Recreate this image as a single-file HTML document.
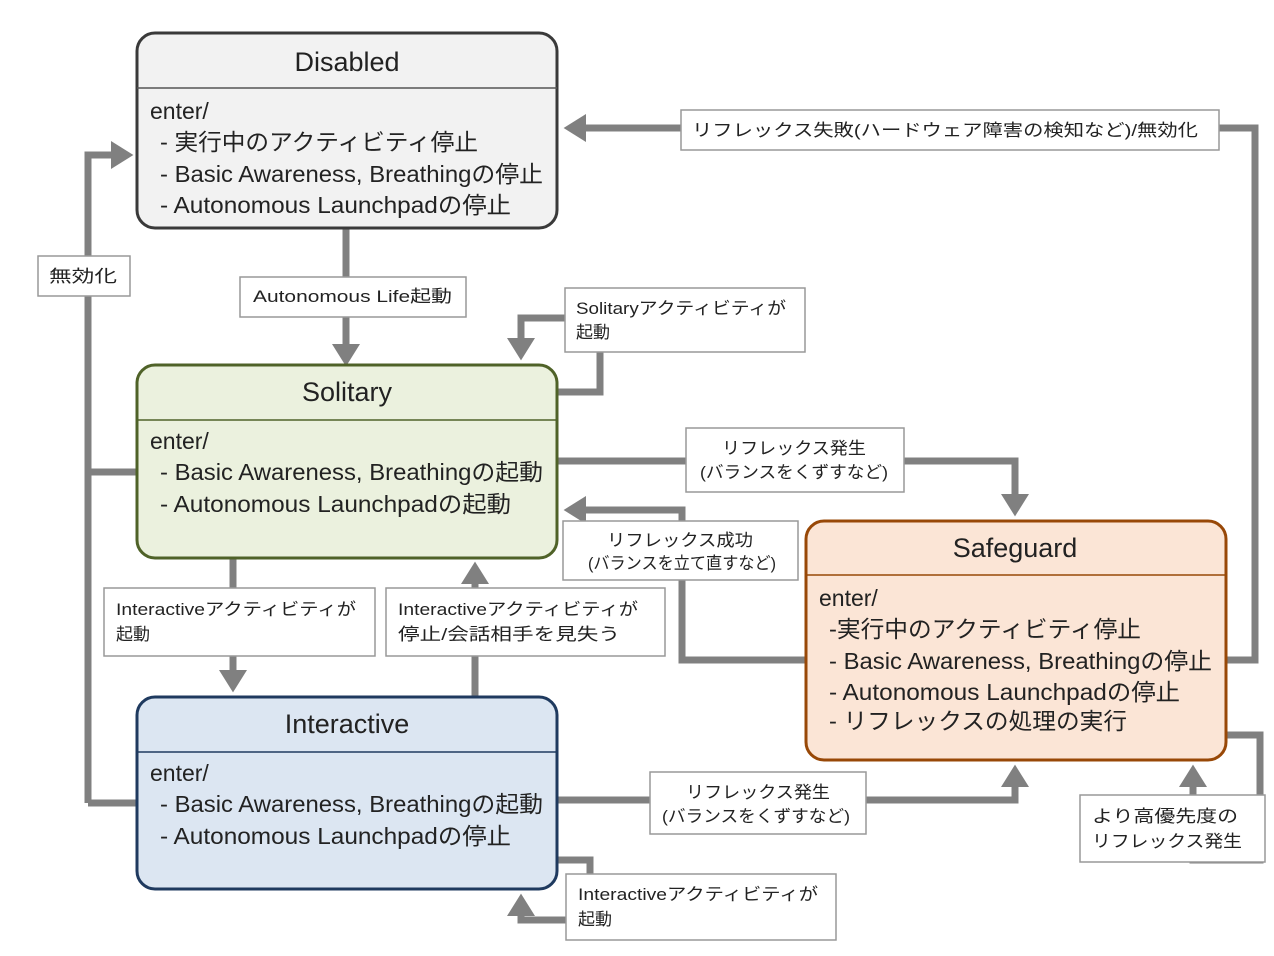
<!DOCTYPE html>
<html><head><meta charset="utf-8"><style>
html,body{margin:0;padding:0;background:#fff;}
svg{display:block;}
text{font-family:"Liberation Sans","Noto Sans CJK JP",sans-serif;fill:#222;}
.h{font-size:27px;text-anchor:middle;}
.b{font-size:23px;}
.l{font-size:17px;}
.c{fill:none;stroke:#808080;stroke-width:7;}
.lb{fill:#fff;stroke:#999;stroke-width:1.5;}
</style></head><body>
<svg width="1274" height="956" viewBox="0 0 1274 956">
<defs><marker id="a" markerWidth="4" markerHeight="4" refX="2" refY="2" orient="auto" markerUnits="strokeWidth"><path d="M0,0 L3.2,2 L0,4 z" fill="#808080"/></marker></defs>
<path class="c" d="M346,228 V358" marker-end="url(#a)"/>
<path class="c" d="M137,472 H88 M137,803 H88 M88,803 V155 H125" marker-end="url(#a)"/>
<path class="c" d="M1226,660 H1255 V128 H572" marker-end="url(#a)"/>
<path class="c" d="M557,392 H600 V318 H521 V352" marker-end="url(#a)"/>
<path class="c" d="M557,461 H1015 V508" marker-end="url(#a)"/>
<path class="c" d="M806,660 H682 V510 H572" marker-end="url(#a)"/>
<path class="c" d="M233,558 V684" marker-end="url(#a)"/>
<path class="c" d="M475,697 V570" marker-end="url(#a)"/>
<path class="c" d="M557,800 H1015 V773" marker-end="url(#a)"/>
<path class="c" d="M1226,735 H1260 V860 H1193 V773" marker-end="url(#a)"/>
<path class="c" d="M557,860 H590 V920 H521 V902" marker-end="url(#a)"/>

<rect x="137" y="33" width="420" height="195" rx="18" fill="#f2f2f2" stroke="#3a3a3a" stroke-width="3"/>
<line x1="137" y1="88" x2="557" y2="88" stroke="#555" stroke-width="1.5"/>
<text class="h" x="347" y="71">Disabled</text>
<text class="b" x="150" y="119">enter/</text>
<text class="b" x="160" y="150" textLength="318" lengthAdjust="spacingAndGlyphs">- 実行中のアクティビティ停止</text>
<text class="b" x="160" y="182" textLength="383" lengthAdjust="spacingAndGlyphs">- Basic Awareness, Breathingの停止</text>
<text class="b" x="160" y="213" textLength="351" lengthAdjust="spacingAndGlyphs">- Autonomous Launchpadの停止</text>

<rect x="137" y="365" width="420" height="193" rx="18" fill="#ebf1de" stroke="#4f6228" stroke-width="3"/>
<line x1="137" y1="420" x2="557" y2="420" stroke="#4f6228" stroke-width="1.5"/>
<text class="h" x="347" y="401">Solitary</text>
<text class="b" x="150" y="449">enter/</text>
<text class="b" x="160" y="480" textLength="383" lengthAdjust="spacingAndGlyphs">- Basic Awareness, Breathingの起動</text>
<text class="b" x="160" y="512" textLength="351" lengthAdjust="spacingAndGlyphs">- Autonomous Launchpadの起動</text>

<rect x="137" y="697" width="420" height="192" rx="18" fill="#dce6f2" stroke="#1f3a5f" stroke-width="3"/>
<line x1="137" y1="752" x2="557" y2="752" stroke="#1f3a5f" stroke-width="1.5"/>
<text class="h" x="347" y="733">Interactive</text>
<text class="b" x="150" y="781">enter/</text>
<text class="b" x="160" y="812" textLength="383" lengthAdjust="spacingAndGlyphs">- Basic Awareness, Breathingの起動</text>
<text class="b" x="160" y="844" textLength="351" lengthAdjust="spacingAndGlyphs">- Autonomous Launchpadの停止</text>

<rect x="806" y="521" width="420" height="239" rx="18" fill="#fbe5d6" stroke="#984807" stroke-width="3"/>
<line x1="806" y1="575" x2="1226" y2="575" stroke="#984807" stroke-width="1.5"/>
<text class="h" x="1015" y="557">Safeguard</text>
<text class="b" x="819" y="606">enter/</text>
<text class="b" x="829" y="637" textLength="312" lengthAdjust="spacingAndGlyphs">-実行中のアクティビティ停止</text>
<text class="b" x="829" y="669" textLength="383" lengthAdjust="spacingAndGlyphs">- Basic Awareness, Breathingの停止</text>
<text class="b" x="829" y="700" textLength="351" lengthAdjust="spacingAndGlyphs">- Autonomous Launchpadの停止</text>
<text class="b" x="829" y="729" textLength="298" lengthAdjust="spacingAndGlyphs">- リフレックスの処理の実行</text>

<rect class="lb" x="240" y="277" width="226" height="40"/><text class="l" x="253" y="302" textLength="199" lengthAdjust="spacingAndGlyphs">Autonomous  Life起動</text>
<rect class="lb" x="38" y="256" width="92" height="40"/><text class="l" x="49" y="282" textLength="68" lengthAdjust="spacingAndGlyphs">無効化</text>
<rect class="lb" x="681" y="110" width="538" height="40"/><text class="l" x="692" y="136" textLength="506" lengthAdjust="spacingAndGlyphs">リフレックス失敗(ハードウェア障害の検知など)/無効化</text>
<rect class="lb" x="565" y="288" width="240" height="64"/><text class="l" x="576" y="314" textLength="210" lengthAdjust="spacingAndGlyphs">Solitaryアクティビティが</text><text class="l" x="576" y="338">起動</text>
<rect class="lb" x="686" y="428" width="218" height="64"/><text class="l" x="722" y="454" textLength="144" lengthAdjust="spacingAndGlyphs">リフレックス発生</text><text class="l" x="700" y="478" textLength="188" lengthAdjust="spacingAndGlyphs">(バランスをくずすなど)</text>
<rect class="lb" x="563" y="521" width="235" height="59"/><text class="l" x="607" y="546" textLength="146" lengthAdjust="spacingAndGlyphs">リフレックス成功</text><text class="l" x="588" y="569" textLength="188" lengthAdjust="spacingAndGlyphs">(バランスを立て直すなど)</text>
<rect class="lb" x="104" y="588" width="271" height="68"/><text class="l" x="116" y="615" textLength="240" lengthAdjust="spacingAndGlyphs">Interactiveアクティビティが</text><text class="l" x="116" y="640">起動</text>
<rect class="lb" x="386" y="588" width="279" height="68"/><text class="l" x="398" y="615" textLength="240" lengthAdjust="spacingAndGlyphs">Interactiveアクティビティが</text><text class="l" x="398" y="640" textLength="222" lengthAdjust="spacingAndGlyphs">停止/会話相手を見失う</text>
<rect class="lb" x="650" y="772" width="216" height="62"/><text class="l" x="686" y="798" textLength="144" lengthAdjust="spacingAndGlyphs">リフレックス発生</text><text class="l" x="662" y="822" textLength="188" lengthAdjust="spacingAndGlyphs">(バランスをくずすなど)</text>
<rect class="lb" x="1080" y="795" width="185" height="67"/><text class="l" x="1092" y="822" textLength="146" lengthAdjust="spacingAndGlyphs">より高優先度の</text><text class="l" x="1092" y="847" textLength="150" lengthAdjust="spacingAndGlyphs">リフレックス発生</text>
<rect class="lb" x="566" y="874" width="270" height="66"/><text class="l" x="578" y="900" textLength="240" lengthAdjust="spacingAndGlyphs">Interactiveアクティビティが</text><text class="l" x="578" y="925">起動</text>
</svg>
</body></html>
